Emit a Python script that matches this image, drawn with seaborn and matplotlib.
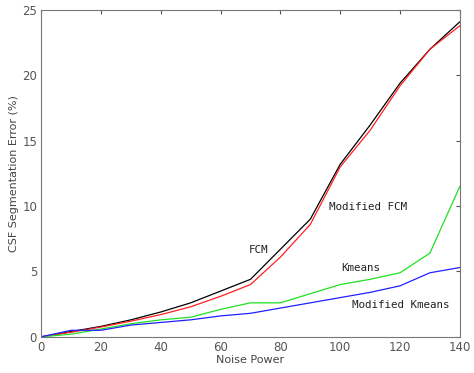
import numpy as np
import pandas as pd
import matplotlib
matplotlib.use("Agg")
import matplotlib.pyplot as plt
import seaborn as sns

# dados
noise_power = [0, 10, 20, 30, 40, 50, 60, 70, 80, 90, 100, 110, 120, 130, 140]
fcm = [0, 0.4, 0.8, 1.3, 1.9, 2.6, 3.5, 4.4, 6.7, 9.0, 13.2, 16.2, 19.4, 22.0, 24.1]
modified_fcm = [0, 0.35, 0.75, 1.2, 1.7, 2.3, 3.1, 4.0, 6.1, 8.6, 13.0, 15.8, 19.2, 22.0, 23.8]
kmeans = [0, 0.2, 0.6, 1.0, 1.3, 1.5, 2.1, 2.6, 2.6, 3.3, 4.0, 4.4, 4.9, 6.4, 11.5]
modified_kmeans = [0, 0.5, 0.5, 0.9, 1.1, 1.3, 1.6, 1.8, 2.2, 2.6, 3.0, 3.4, 3.9, 4.9, 5.3]

series = {"FCM": fcm, "Modified FCM": modified_fcm,
          "Kmeans": kmeans, "Modified Kmeans": modified_kmeans}
colors = {"FCM": "black", "Modified FCM": "#ff2020",
          "Kmeans": "#20e020", "Modified Kmeans": "#2020ff"}

df = pd.DataFrame([(x, name, y) for name, vals in series.items()
                   for x, y in zip(noise_power, vals)],
                  columns=["Noise Power", "method", "error"])

sns.set_style("white")
plt.rcParams["font.family"] = ["DejaVu Sans"]

fig = plt.figure(figsize=(4.74, 3.73), dpi=100)
ax = fig.add_axes([0.087, 0.097, 0.883, 0.876])
sns.lineplot(data=df, x="Noise Power", y="error", hue="method",
             palette=colors, linewidth=0.9, legend=False, ax=ax)

ax.set_xlim(0, 140)
ax.set_ylim(0, 25)
ax.set_xticks(range(0, 141, 20))
ax.set_yticks(range(0, 26, 5))
ax.set_xlabel("Noise Power", fontsize=8, color="#444444", labelpad=1)
ax.set_ylabel("CSF Segmentation Error (%)", fontsize=8, color="#444444", labelpad=2)
ax.tick_params(direction="in", length=3, top=True, right=True, labelsize=8.5,
               colors="#555555", pad=3)
for s in ax.spines.values():
    s.set_color("#777777")
    s.set_linewidth(0.8)

labels = [("FCM", 69.5, 6.65), ("Modified FCM", 96.3, 9.9),
          ("Kmeans", 100.5, 5.3), ("Modified Kmeans", 104, 2.4)]
for txt, x, y in labels:
    ax.text(x, y, txt, fontsize=7.8, family="DejaVu Sans Mono",
            va="center", ha="left", color="#222222")

fig.savefig("out.png", dpi=100)
